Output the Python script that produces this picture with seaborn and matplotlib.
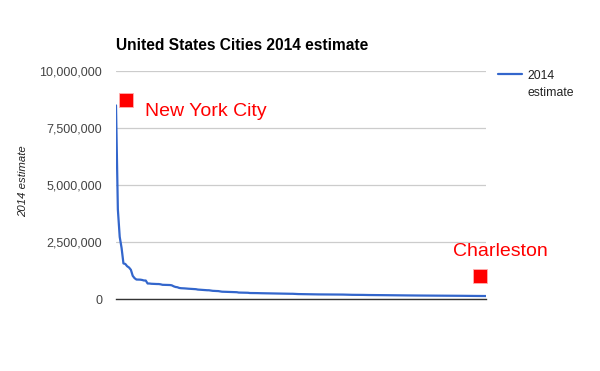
import matplotlib
matplotlib.use("Agg")
import matplotlib.pyplot as plt
import seaborn as sns
import pandas as pd
from matplotlib.ticker import FuncFormatter

# 2014 population estimates, largest US cities, sorted descending
population = [
    8491079, 3928864, 2722389, 2239558, 1560297, 1537058, 1436697, 1381069, 1281047, 1015785,
    912791, 853382, 852469, 848788, 835957, 812238, 809958, 680250, 679036, 668342,
    663862, 658893, 656861, 655884, 644014, 622793, 620602, 619360, 613599, 612780,
    599642, 557169, 527972, 515986, 485199, 473577, 470800, 464704, 456002, 450980,
    446599, 445830, 439896, 430332, 413775, 407207, 399682, 389521, 388413, 384320,
    383204, 368759, 358699, 353108, 350399, 346997, 334909, 320434, 317419, 316619,
    310797, 305412, 302389, 301010, 298165, 297640, 282586, 281031, 280579, 278480,
    277440, 272996, 262372, 262146, 260988, 258703, 258522, 254276, 253693, 251893,
    251559, 248531, 246393, 245691, 243839, 239277, 237517, 236995, 236441, 235429,
    234566, 233394, 232406, 230512, 228895, 228758, 223491, 217853, 216282, 214545,
    212247, 212052, 209983, 209220, 208965, 205437, 205159, 203948, 203003, 201175,
    200887, 200667, 200481, 200456, 199223, 199182, 197706, 197542, 197254, 197204,
    196741, 194675, 193792, 190884, 186411, 186254, 185453, 183270, 183016, 182965,
    181860, 181260, 179590, 179154, 176013, 175114, 174389, 174132, 172816, 172794,
    172299, 172113, 171155, 169294, 168586, 167500, 166934, 166611, 165831, 165378,
    165237, 162523, 162060, 160561, 159055, 157356, 156677, 156480, 155142, 155026,
    154355, 154341, 152555, 151713, 151411, 151088, 150587, 150575, 149978, 149651,
    148028, 147806, 147745, 147612, 147478, 147000, 146806, 146128, 145674, 145035,
    144788, 144669, 141510, 141003, 140806, 140131, 139812, 138185, 136879, 136426,
    136208, 134873, 134721, 133803, 133062, 132100, 131500, 130900, 130500, 130113,
]
rank = list(range(len(population)))

# highlighted cities (square markers + labels)
note_labels = ["New York City", "Charleston"]
note_x = [5.4, 196]
note_y = [8730000, 1030000]
note_offsets = [(13.5, -8), (14.5, 17)]
note_ha = ["left", "center"]

y_ticks = [0, 2500000, 5000000, 7500000, 10000000]

sns.set_theme(style="white")
plt.rcParams["font.family"] = ["Liberation Sans", "DejaVu Sans"]

fig = plt.figure(figsize=(6, 3.71), dpi=100)
ax = fig.add_axes([116 / 600, 1 - 299 / 371, 370 / 600, 228 / 371])

df = pd.DataFrame({"rank": rank, "2014 estimate": population})
sns.lineplot(data=df, x="rank", y="2014 estimate", ax=ax, color="#3366cc",
             linewidth=1.6, label="2014")

ax.scatter(note_x, note_y, marker="s", s=105, color="#ff0000",
           edgecolor="#ffb0b0", linewidth=0.6, zorder=5, clip_on=False)
for lab, x, y, off, ha in zip(note_labels, note_x, note_y, note_offsets, note_ha):
    ax.annotate(lab, (x, y), xytext=off, textcoords="offset points",
                ha=ha, va="center", color="#ff0000", fontsize=14,
                annotation_clip=False)

ax.set_xlim(0, len(population) - 1)
ax.set_ylim(0, 10000000)
ax.set_yticks(y_ticks)
ax.yaxis.set_major_formatter(FuncFormatter(lambda v, p: f"{int(v):,}"))
ax.tick_params(axis="y", length=0, pad=10, labelsize=9.0, labelcolor="#444444")
ax.set_xticks([])
ax.set_xlabel("")
ax.grid(axis="y", color="#cccccc", linewidth=0.9)
for s in ["top", "right", "left"]:
    ax.spines[s].set_visible(False)
ax.spines["bottom"].set_color("#333333")
ax.spines["bottom"].set_linewidth(1.0)

ax.set_ylabel("2014 estimate", fontstyle="italic", fontsize=8.2, color="#222222")
ax.yaxis.set_label_coords(-0.238, 0.518)

ax.set_title("United States Cities 2014 estimate", loc="left", fontweight="bold",
             fontsize=11.2, pad=15, color="#000000")

# legend: series name wraps onto a second line under "2014"
leg = ax.legend(loc="upper left", bbox_to_anchor=(1.032, 1.006), frameon=False,
                fontsize=8.8, handlelength=1.96, handletextpad=0.47,
                borderpad=0, borderaxespad=0)
for t in leg.get_texts():
    t.set_color("#222222")
fig.text(527.7 / 600, 1 - 93.3 / 371, "estimate", fontsize=8.8, color="#222222",
         ha="left", va="center")

fig.savefig("out.png", dpi=100)
